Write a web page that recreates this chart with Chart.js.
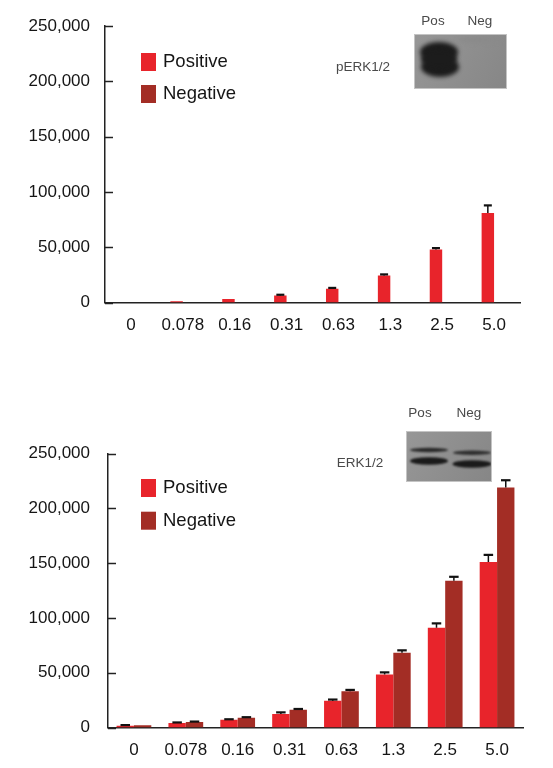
<!DOCTYPE html>
<html>
<head>
<meta charset="utf-8">
<script src="https://cdn.jsdelivr.net/npm/chart.js@4.4.1/dist/chart.umd.min.js"></script>
<style>
  html, body { margin: 0; padding: 0; background: #fff; }
  #wrap { position: relative; width: 553px; height: 768px; }
  .box { position: absolute; left: 0; width: 553px; }
  #box_perk { top: 0; height: 345px; }
  #box_erk { top: 400px; height: 368px; }
</style>
</head>
<body>
<div id="wrap">
  <div class="box" id="box_perk"><canvas id="chart_perk"></canvas></div>
  <div class="box" id="box_erk"><canvas id="chart_erk"></canvas></div>
</div>
<script>
'use strict';

// Categories / ticks
const doses = ['0', '0.078', '0.16', '0.31', '0.63', '1.3', '2.5', '5.0'];
const yTicks = [0, 50000, 100000, 150000, 200000, 250000];
const seriesNames = ['Positive', 'Negative'];

// pERK1/2 (top panel)
const perkPositive = [0, 1200, 3100, 6300, 12500, 24500, 48000, 81000];
const perkPositiveErr = [0, 0, 0, 700, 700, 900, 1200, 6800];
const perkNegative = [0, 0, 0, 0, 0, 0, 0, 0];
const perkNegativeErr = [0, 0, 0, 0, 0, 0, 0, 0];

// ERK1/2 (bottom panel)
const erkPositive = [1600, 4200, 7000, 12400, 24300, 48400, 91000, 151000];
const erkPositiveErr = [600, 400, 500, 1400, 1200, 1900, 4000, 6500];
const erkNegative = [2100, 5000, 8900, 16200, 33000, 68300, 133800, 219000];
const erkNegativeErr = [0, 400, 500, 700, 1300, 2100, 3700, 6600];

// Colors
const posColor = '#e8242b',
  negColor = '#a32d25',
  axisColor = '#222222',
  textColor = '#151515';

const baseFont = '"Liberation Sans", Arial, sans-serif';
Chart.defaults.font.family = baseFont;
Chart.defaults.color = textColor;

// error bars (upper whisker + cap)
const errorBars = {
  id: 'errorBars',
  afterDatasetsDraw(chart, args, opts) {
    const ctx = chart.ctx, yScale = chart.scales.y;
    ctx.save();
    ctx.strokeStyle = '#111';
    chart.data.datasets.forEach((ds, i) => {
      const meta = chart.getDatasetMeta(i);
      meta.data.forEach((bar, j) => {
        const err = ds.errors ? ds.errors[j] : 0;
        if (!err) return;
        const yTop = yScale.getPixelForValue(ds.data[j] + err);
        ctx.lineWidth = 1.5;
        ctx.beginPath();
        ctx.moveTo(bar.x, bar.y);
        ctx.lineTo(bar.x, yTop);
        ctx.stroke();
        ctx.lineWidth = 2.2;
        ctx.beginPath();
        ctx.moveTo(bar.x - opts.cap / 2, yTop);
        ctx.lineTo(bar.x + opts.cap / 2, yTop);
        ctx.stroke();
      });
    });
    ctx.restore();
  }
};

// inward tick marks on y axis
const innerTicks = {
  id: 'innerTicks',
  afterDraw(chart) {
    const ctx = chart.ctx, y = chart.scales.y, left = chart.chartArea.left;
    ctx.save();
    ctx.strokeStyle = axisColor;
    ctx.lineWidth = 1.5;
    y.ticks.forEach(t => {
      const py = Math.round(y.getPixelForValue(t.value)) + 0.5;
      ctx.beginPath();
      ctx.moveTo(left, py);
      ctx.lineTo(left + 8, py);
      ctx.stroke();
    });
    ctx.restore();
  }
};

// legend floating inside plot
const floatLegend = {
  id: 'floatLegend',
  afterDraw(chart, args, opts) {
    const ctx = chart.ctx;
    ctx.save();
    ctx.font = '18.5px ' + baseFont;
    ctx.textBaseline = 'middle';
    chart.data.datasets.forEach((ds, i) => {
      const top = opts.y + i * opts.gap;
      ctx.fillStyle = ds.backgroundColor;
      ctx.fillRect(opts.x, top, 15, 18);
      ctx.fillStyle = textColor;
      ctx.fillText(ds.label, opts.x + 22, top + 9);
    });
    ctx.restore();
  }
};

// western blot inset
const blotInset = {
  id: 'blotInset',
  afterDraw(chart, args, o) {
    const ctx = chart.ctx;
    ctx.save();
    const g = ctx.createLinearGradient(o.x, o.y, o.x + o.w, o.y + o.h);
    g.addColorStop(0, '#979797');
    g.addColorStop(1, '#868686');
    ctx.fillStyle = g;
    ctx.fillRect(o.x, o.y, o.w, o.h);
    ctx.strokeStyle = '#c4c4c4';
    ctx.lineWidth = 1;
    ctx.strokeRect(o.x + 0.5, o.y + 0.5, o.w - 1, o.h - 1);
    ctx.beginPath();
    ctx.rect(o.x + 1, o.y + 1, o.w - 2, o.h - 2);
    ctx.clip();
    ctx.filter = 'blur(' + o.blur + 'px)';
    o.bands.forEach(b => {
      ctx.fillStyle = b.c;
      ctx.beginPath();
      ctx.ellipse(b.x, b.y, b.rx, b.ry, 0, 0, Math.PI * 2);
      ctx.fill();
    });
    ctx.filter = 'none';
    ctx.restore();

    ctx.save();
    ctx.fillStyle = '#4a4a4a';
    ctx.font = '13.5px ' + baseFont;
    ctx.textAlign = 'center';
    ctx.textBaseline = 'middle';
    ctx.fillText('Pos', o.pos, o.laneY);
    ctx.fillText('Neg', o.neg, o.laneY);
    ctx.fillText(o.label, o.labelX, o.labelY);
    ctx.restore();
  }
};

function makeChart(id, pos, posErr, neg, negErr, look) {
  return new Chart(document.getElementById(id), {
    type: 'bar',
    data: {
      labels: doses,
      datasets: [
        { label: seriesNames[0], data: pos, errors: posErr, backgroundColor: posColor },
        { label: seriesNames[1], data: neg, errors: negErr, backgroundColor: negColor }
      ]
    },
    options: {
      responsive: true,
      maintainAspectRatio: false,
      animation: false,
      layout: { padding: look.padding },
      datasets: {
        bar: { categoryPercentage: look.catPct, barPercentage: 1.0, borderWidth: 0 }
      },
      plugins: {
        legend: { display: false },
        tooltip: { enabled: false },
        errorBars: { cap: look.cap },
        floatLegend: { x: 141, y: look.legendY, gap: look.legendGap },
        blotInset: look.blot
      },
      scales: {
        x: {
          grid: { display: false, drawTicks: false },
          border: { display: true, color: axisColor, width: 1.5 },
          ticks: { font: { size: 17 }, padding: 13, maxRotation: 0, autoSkip: false },
          afterFit: s => { s.height = look.xHeight; }
        },
        y: {
          min: 0,
          max: 250000,
          grid: { display: false, drawTicks: false },
          border: { display: true, color: axisColor, width: 1.5 },
          afterBuildTicks: s => { s.ticks = yTicks.map(v => ({ value: v })); },
          ticks: {
            font: { size: 17 },
            padding: look.yPad,
            callback: v => Number(v).toLocaleString('en-US')
          },
          afterFit: s => { s.width = look.yWidth; }
        }
      }
    },
    plugins: [errorBars, innerTicks, floatLegend, blotInset]
  });
}

// top: pERK1/2
makeChart('chart_perk', perkPositive, perkPositiveErr, perkNegative, perkNegativeErr, {
  padding: { top: 26, right: 33, bottom: 0, left: 0 },
  yWidth: 105,
  yPad: 15,
  xHeight: 42.5,
  catPct: 0.48,
  cap: 8,
  legendY: 53,
  legendGap: 32,
  blot: {
    x: 414, y: 34, w: 93, h: 55, blur: 2,
    bands: [
      { x: 439, y: 52, rx: 19, ry: 10, c: '#1c1c1c' },
      { x: 440, y: 67, rx: 19, ry: 10, c: '#1c1c1c' },
      { x: 439, y: 59, rx: 18, ry: 9, c: '#1c1c1c' },
      { x: 480, y: 40, rx: 22, ry: 3, c: '#8a8a8a' }
    ],
    pos: 433, neg: 480, laneY: 21,
    label: 'pERK1/2', labelX: 363, labelY: 67
  }
});

// bottom: ERK1/2
makeChart('chart_erk', erkPositive, erkPositiveErr, erkNegative, erkNegativeErr, {
  padding: { top: 53.5, right: 30, bottom: 0, left: 0 },
  yWidth: 108,
  yPad: 18,
  xHeight: 40.5,
  catPct: 0.67,
  cap: 9.5,
  legendY: 79,
  legendGap: 32.7,
  blot: {
    x: 406, y: 31, w: 86, h: 51, blur: 1,
    bands: [
      { x: 429, y: 50, rx: 19, ry: 2.2, c: '#2a2a2a' },
      { x: 429, y: 61, rx: 19, ry: 3.8, c: '#1a1a1a' },
      { x: 472, y: 52.7, rx: 19, ry: 2.2, c: '#2e2e2e' },
      { x: 472, y: 64, rx: 19.5, ry: 3.8, c: '#1a1a1a' }
    ],
    pos: 420, neg: 469, laneY: 13,
    label: 'ERK1/2', labelX: 360, labelY: 63
  }
});
</script>
</body>
</html>
